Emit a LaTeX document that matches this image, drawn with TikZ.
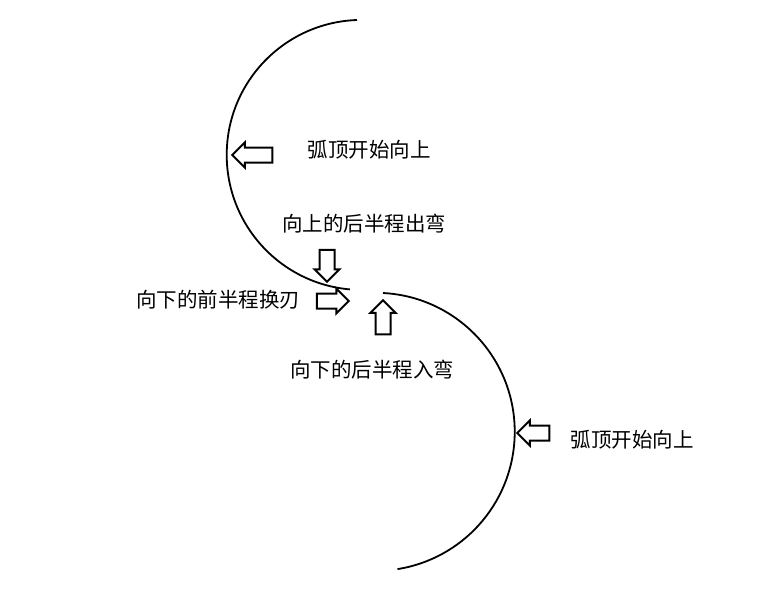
\documentclass[tikz,border=0pt]{standalone}
\usepackage{fontspec}
\newfontfamily\cjk{Noto Sans CJK SC}
\usetikzlibrary{shapes.arrows}
\begin{document}
\begin{tikzpicture}[x=1pt,y=-1pt,
  lbl/.style={font=\cjk\fontsize{20.5}{24}\selectfont, inner sep=0pt},
  blk/.style={single arrow, draw=black, line width=2pt, fill=white, minimum width=24pt, single arrow head extend=5pt, inner sep=6.5pt, single arrow head indent=0pt},
  arc/.style={line width=1.8pt}]
\useasboundingbox (0,0) rectangle (778,592);
\draw[arc] (357,20) arc[start angle=-92, end angle=-265, radius=135];
\draw[arc] (383,293) arc[start angle=-87, end angle=81, radius=139];
\node[blk, minimum height=40pt, shape border rotate=180] (a1) at (256,155) {};
\node[blk, minimum height=32pt, shape border rotate=270] (a2) at (327,262) {};
\node[blk, minimum height=32pt] (a3) at (329,301) {};
\node[blk, minimum height=34pt, shape border rotate=90] (a4) at (383,321) {};
\node[blk, minimum height=32pt, shape border rotate=180] (a5) at (537,433) {};
\node[lbl] (t1) at (369,150) {弧顶开始向上};
\node[lbl] (t2) at (364,224) {向上的后半程出弯};
\node[lbl] (t3) at (218,300) {向下的前半程换刃};
\node[lbl] (t4) at (372,370) {向下的后半程入弯};
\node[lbl] (t5) at (632,440) {弧顶开始向上};
\end{tikzpicture}
\end{document}
